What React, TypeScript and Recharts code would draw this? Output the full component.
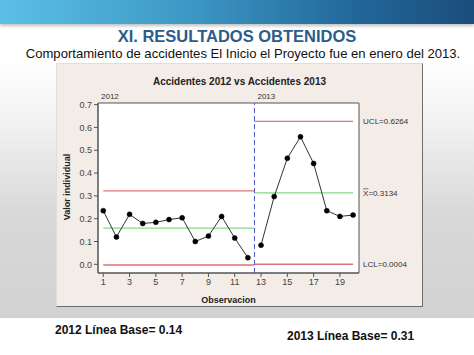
import { ComposedChart, Line, XAxis, YAxis, ReferenceLine, ReferenceArea } from 'recharts';

// observaciones 2012 (1-12) y 2013 (13-20), valor individual
const OBS_2012 = [1, 2, 3, 4, 5, 6, 7, 8, 9, 10, 11, 12];
const VAL_2012 = [0.235, 0.12, 0.219, 0.179, 0.184, 0.196, 0.204, 0.1, 0.124, 0.21, 0.115, 0.029];
const OBS_2013 = [13, 14, 15, 16, 17, 18, 19, 20];
const VAL_2013 = [0.084, 0.297, 0.465, 0.559, 0.442, 0.235, 0.21, 0.216];

// limites de control [UCL, media, LCL]
const LIMITS_2012 = [0.322, 0.159, -0.003];
const LIMITS_2013 = [0.6264, 0.3134, 0.0004];
const PHASE_SPLIT = 12.5;

const X_TICKS = [1, 3, 5, 7, 9, 11, 13, 15, 17, 19];
const Y_TICKS = [0, 0.1, 0.2, 0.3, 0.4, 0.5, 0.6, 0.7];
const X_DOMAIN = [0.6, 20.45];
const Y_DOMAIN = [-0.038, 0.707];

const data2012 = OBS_2012.map((obs, i) => ({ obs, v: VAL_2012[i] }));
const data2013 = OBS_2013.map((obs, i) => ({ obs, v: VAL_2013[i] }));

const RED = '#dc7474';
const GREEN = '#86d886';
const SANS = '"Liberation Sans", Arial, sans-serif';

function RightLabel({ viewBox, text, bar }: any) {
  const x = viewBox.x + viewBox.width + 10;
  const y = viewBox.y + 3;
  return (
    <g>
      {bar && <line x1={x} x2={x + 5.3} y1={y - 7} y2={y - 7} stroke="#444" strokeWidth={0.7} />}
      <text x={x} y={y} fontSize={8} fontFamily={SANS} fill="#333">
        {text}
      </text>
    </g>
  );
}

function TopLabel({ viewBox, text }: any) {
  return (
    <text x={viewBox.x + 3} y={viewBox.y - 4} fontSize={8} fontFamily={SANS} fill="#333">
      {text}
    </text>
  );
}

function YTitle() {
  return (
    <text
      x={14}
      y={124}
      transform="rotate(-90 14 124)"
      textAnchor="middle"
      fontSize={9}
      fontWeight="bold"
      fontFamily={SANS}
      fill="#222"
    >
      Valor individual
    </text>
  );
}

export default function App() {
  return (
    <div style={{ position: 'absolute', left: 0, top: 0, width: 474, height: 355, background: '#fff', overflow: 'hidden', fontFamily: SANS }}>
      <div
        style={{
          position: 'absolute', left: 0, top: 0, width: 474, height: 24,
          background: 'linear-gradient(to right, #5cc0e6 0%, #3d97c4 40%, #22679a 75%, #1b4d7c 100%)',
          boxShadow: '0 2px 3px rgba(0,0,0,0.25)',
        }}
      />
      <div style={{ position: 'absolute', left: 0, top: 27, width: 474, textAlign: 'center', fontSize: 16.5, fontWeight: 'bold', color: '#2c5d88', whiteSpace: 'nowrap' }}>
        XI. RESULTADOS OBTENIDOS
      </div>
      <div style={{ position: 'absolute', left: 0, top: 46, width: 486, textAlign: 'center', fontSize: 13.1, color: '#111', whiteSpace: 'nowrap' }}>
        Comportamiento de accidentes El Inicio el Proyecto fue en enero del 2013.
      </div>
      <div
        style={{
          position: 'absolute', left: 0, top: 62, width: 474, height: 256,
          background: 'linear-gradient(to bottom, #ffffff 0%, #f1f1f1 25%, #d8d8d8 60%, #d2d2d2 100%)',
        }}
      />
      <div
        style={{
          position: 'absolute', left: 56, top: 63, width: 365, height: 242,
          background: '#f4ece7',
          borderLeft: '1px solid #e2ddd9', borderTop: '1px solid #e2ddd9',
          borderRight: '1px solid #6e6e6e', borderBottom: '1px solid #6e6e6e',
        }}
      >
        <div style={{ position: 'absolute', left: 0, top: 12, width: 365, textAlign: 'center', fontSize: 10, fontWeight: 'bold', color: '#222', whiteSpace: 'nowrap' }}>
          Accidentes 2012 vs Accidentes 2013
        </div>
        <div style={{ position: 'absolute', left: -1, top: -1 }}>
          <ComposedChart width={366} height={243} margin={{ top: 40, right: 63, bottom: 0, left: 0 }}>
            <XAxis
              type="number"
              dataKey="obs"
              domain={X_DOMAIN}
              ticks={X_TICKS}
              allowDataOverflow
              height={33}
              axisLine={{ stroke: '#555' }}
              tickLine={{ stroke: '#555' }}
              tickSize={4}
              tick={{ fill: '#444', fontSize: 9, fontFamily: SANS }}
              label={{ value: 'Observacion', position: 'insideBottom', offset: 3, fontSize: 9, fontWeight: 'bold', fill: '#222', fontFamily: SANS }}
            />
            <YAxis
              type="number"
              domain={Y_DOMAIN}
              ticks={Y_TICKS}
              allowDataOverflow
              width={42}
              axisLine={{ stroke: '#555' }}
              tickLine={{ stroke: '#555' }}
              tickSize={4}
              tickFormatter={(v: number) => v.toFixed(1)}
              tick={{ fill: '#444', fontSize: 9, fontFamily: SANS }}
              label={<YTitle />}
            />
            <ReferenceArea x1={X_DOMAIN[0]} x2={X_DOMAIN[1]} y1={Y_DOMAIN[0]} y2={Y_DOMAIN[1]} fill="#fff" fillOpacity={1} stroke="#555" />
            <ReferenceLine x={X_DOMAIN[0]} stroke="none" label={<TopLabel text="2012" />} />
            <ReferenceLine segment={[{ x: 1, y: LIMITS_2012[0] }, { x: PHASE_SPLIT, y: LIMITS_2012[0] }]} stroke={RED} strokeWidth={1.3} />
            <ReferenceLine segment={[{ x: 1, y: LIMITS_2012[1] }, { x: PHASE_SPLIT, y: LIMITS_2012[1] }]} stroke={GREEN} strokeWidth={1.3} />
            <ReferenceLine segment={[{ x: 1, y: LIMITS_2012[2] }, { x: PHASE_SPLIT, y: LIMITS_2012[2] }]} stroke={RED} strokeWidth={1.3} />
            <ReferenceLine
              segment={[{ x: PHASE_SPLIT, y: LIMITS_2013[0] }, { x: 20, y: LIMITS_2013[0] }]}
              stroke={RED}
              strokeWidth={1.3}
              label={<RightLabel text={'UCL=' + LIMITS_2013[0]} />}
            />
            <ReferenceLine
              segment={[{ x: PHASE_SPLIT, y: LIMITS_2013[1] }, { x: 20, y: LIMITS_2013[1] }]}
              stroke={GREEN}
              strokeWidth={1.3}
              label={<RightLabel text={'X=' + LIMITS_2013[1]} bar />}
            />
            <ReferenceLine
              segment={[{ x: PHASE_SPLIT, y: LIMITS_2013[2] }, { x: 20, y: LIMITS_2013[2] }]}
              stroke={RED}
              strokeWidth={1.3}
              label={<RightLabel text={'LCL=' + LIMITS_2013[2]} />}
            />
            <ReferenceLine x={PHASE_SPLIT} stroke="#4a55c8" strokeDasharray="5 3" strokeWidth={1} label={<TopLabel text="2013" />} />
            <Line data={data2012} dataKey="v" stroke="#333" strokeWidth={1} dot={{ r: 2.5, fill: '#000', stroke: '#000', strokeWidth: 0.5 }} isAnimationActive={false} />
            <Line data={data2013} dataKey="v" stroke="#333" strokeWidth={1} dot={{ r: 2.5, fill: '#000', stroke: '#000', strokeWidth: 0.5 }} isAnimationActive={false} />
          </ComposedChart>
        </div>
      </div>
      <div style={{ position: 'absolute', left: 55, top: 323, fontSize: 12, fontWeight: 'bold', color: '#111', whiteSpace: 'nowrap' }}>
        2012 Línea Base= 0.14
      </div>
      <div style={{ position: 'absolute', left: 287, top: 329, fontSize: 12, fontWeight: 'bold', color: '#111', whiteSpace: 'nowrap' }}>
        2013 Línea Base= 0.31
      </div>
    </div>
  );
}
